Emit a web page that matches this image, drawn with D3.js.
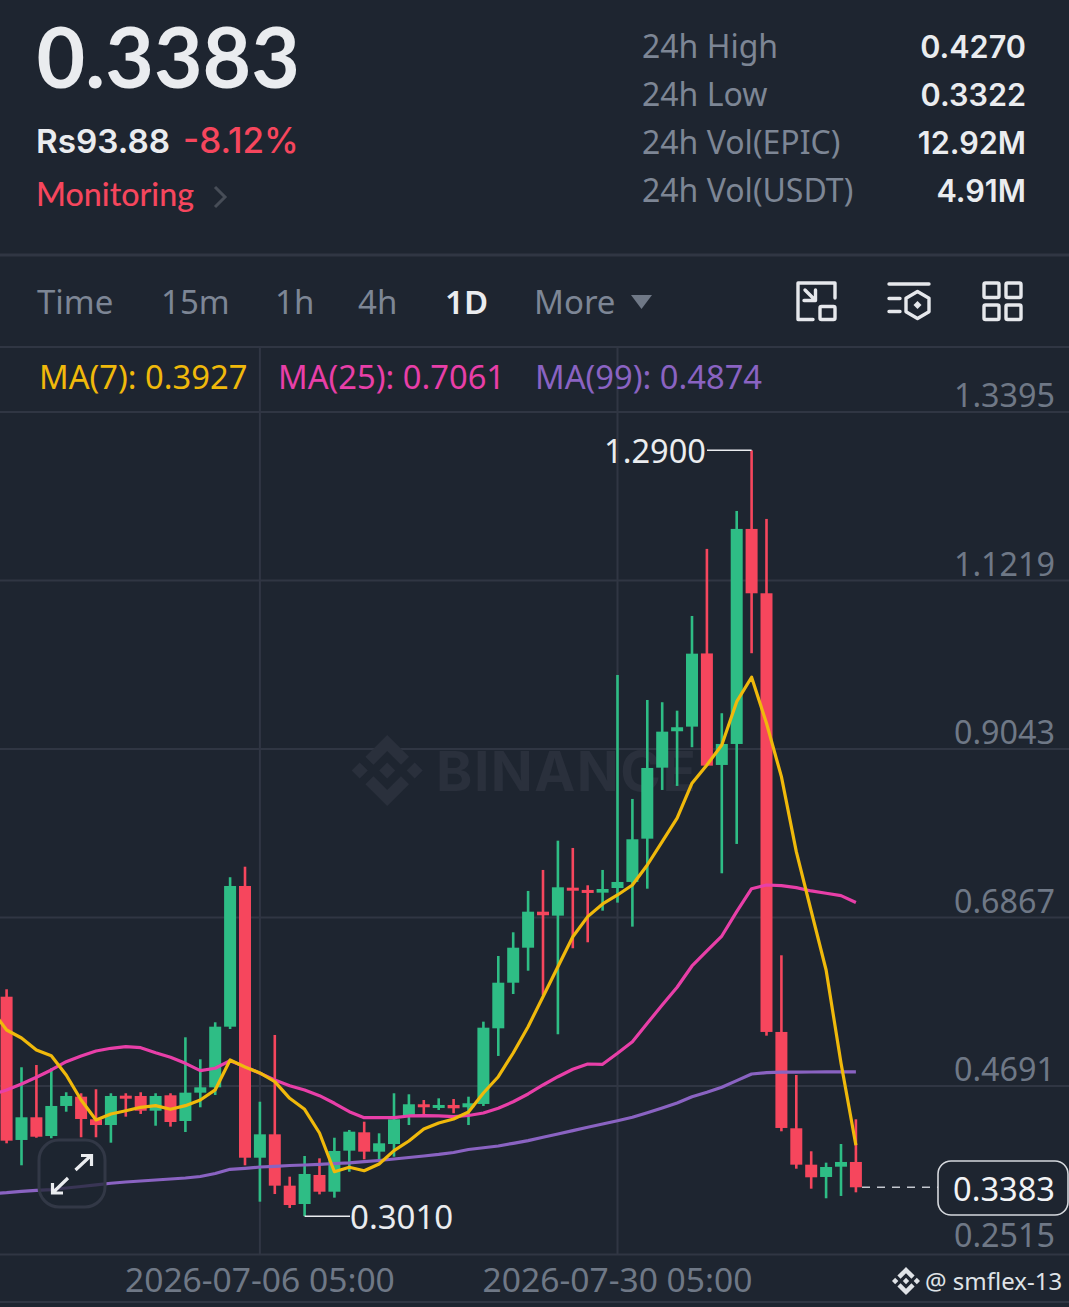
<!DOCTYPE html>
<html>
<head>
<meta charset="utf-8">
<script src="https://cdn.jsdelivr.net/npm/d3@7"></script>
<style>
  html, body { margin: 0; padding: 0; background: #1e2530; }
  svg { display: block; }
  text { font-family: "Noto Sans", sans-serif; }
  .lato { font-family: Lato, sans-serif; }
  .inter { font-family: Inter, sans-serif; }
</style>
</head>
<body>
<svg id="chart" width="1069" height="1307"></svg>
<script>
// candles, one per day, first one is 2026-06-19
const opens = [.5844,.3994,.4287,.4045,.4433,.4553,.4261,.4187,.4566,.4562,.4372,.4571,.4239,.4605,.4674,.5457,.7274,.3765,.4067,.3404,.3167,.3542,.3326,.3856,.4093,.3843,.3942,.4304,.4455,.4424,.4446,.4416,.4459,.5436,.6025,.6477,.6942,.6891,.7252,.7223,.7188,.7248,.7326,.7885,.8802,.9272,.9332,1.0277,.8837,.9108,1.1885,1.1054,.5389,.4145,.3675,.3516,.3649,.3710];
const closes = [.3985,.4287,.4036,.4433,.4562,.4265,.4187,.4562,.4527,.4372,.4562,.4226,.4605,.4674,.5457,.7274,.3765,.4067,.3404,.3154,.3555,.3326,.3852,.4101,.3843,.3951,.4261,.4455,.4433,.4446,.4403,.4468,.5444,.6025,.6477,.6942,.6896,.7257,.7213,.7184,.7235,.7326,.7877,.8798,.9267,.9324,1.0274,.8828,.9108,1.1885,1.1054,.5389,.4149,.3675,.3512,.3645,.3710,.3383];
const highs = [.5940,.4933,.4962,.4920,.4610,.4597,.4649,.4597,.4597,.4610,.4597,.4597,.5320,.5036,.5514,.7387,.7523,.4488,.5350,.3520,.3787,.3757,.4023,.4123,.4230,.4080,.4597,.4584,.4510,.4532,.4523,.4553,.5522,.6370,.6676,.7210,.7481,.7859,.7765,.7283,.7481,.9999,.8398,.9676,.9647,.9538,1.0761,1.1627,.9505,1.2117,1.2900,1.2014,.6379,.4833,.3848,.3701,.3942,.4261];
const lows = [.3951,.3667,.4023,.4016,.4359,.4029,.4029,.3959,.4295,.4330,.4178,.4166,.4097,.4416,.4575,.5427,.3667,.3197,.3296,.3116,.3010,.3292,.3249,.3584,.3744,.3735,.3778,.4187,.4304,.4381,.4339,.4187,.4433,.5079,.5879,.6180,.5866,.5359,.6470,.6547,.6955,.7059,.6749,.7239,.8514,.8566,.9066,.8828,.7438,.7817,1.0280,.5341,.4106,.3623,.3365,.3241,.3271,.3318];

// moving averages, these start one day earlier (runs off the left edge)
const ma7 = [.5673,.5414,.5311,.5156,.5082,.4833,.4510,.4252,.4330,.4372,.4416,.4437,.4390,.4437,.4510,.4640,.5027,.4937,.4859,.4747,.4532,.4390,.4084,.3584,.3641,.3597,.3684,.3856,.3981,.4136,.4213,.4265,.4355,.4601,.4811,.5117,.5457,.5844,.6232,.6619,.6878,.7042,.7158,.7287,.7545,.7846,.8149,.8601,.8837,.9095,.9654,.9970,.9375,.8686,.7717,.6951,.6189,.4988,.3927];
const ma25 = [.4575,.4640,.4717,.4804,.4898,.5005,.5079,.5143,.5178,.5199,.5186,.5121,.5062,.4984,.4889,.4920,.5018,.4940,.4855,.4769,.4695,.4640,.4566,.4468,.4359,.4282,.4282,.4282,.4304,.4308,.4304,.4295,.4310,.4342,.4403,.4488,.4588,.4704,.4811,.4907,.4975,.4971,.5113,.5263,.5501,.5737,.5966,.6241,.6435,.6628,.6942,.7239,.7287,.7278,.7252,.7210,.7180,.7149,.7061];
const ma99 = [.3303,.3313,.3329,.3342,.3354,.3374,.3393,.3413,.3435,.3451,.3464,.3477,.3490,.3503,.3522,.3561,.3615,.3628,.3645,.3654,.3664,.3671,.3680,.3690,.3699,.3714,.3729,.3748,.3768,.3787,.3807,.3832,.3871,.3894,.3916,.3951,.3985,.4029,.4071,.4114,.4158,.4200,.4243,.4287,.4346,.4407,.4472,.4553,.4610,.4674,.4760,.4846,.4863,.4869,.4871,.4872,.4873,.4874,.4874];

const priceTicks = [1.3395, 1.1219, 0.9043, 0.6867, 0.4691, 0.2515];
const dateTicks = ["2026-07-06T05:00Z", "2026-07-30T05:00Z"].map(d => new Date(d));
const lastPrice = 0.3383;
const peakPrice = 1.29;
const bottomPrice = 0.301;

const statLabels = ["24h High", "24h Low", "24h Vol(EPIC)", "24h Vol(USDT)"];
const statValues = ["0.4270", "0.3322", "12.92M", "4.91M"];
const tabLabels = ["Time", "15m", "1h", "4h", "1D", "More"];
const tabX = [37, 161, 275, 358, 445, 534];

const colors = {
    bg: "#1e2530", up: "#2ebd85", down: "#f6465d", grid: "#303643", axis: "#6f7886", stat: "#7d8695",
    white: "#eaecef", ma7: "#f0b90b", ma25: "#e83fa8", ma99: "#8a63c2"
};

const firstDay = new Date("2026-06-19T05:00Z");
const days = opens.map((d, i) => d3.utcDay.offset(firstDay, i));
const maDays = ma7.map((d, i) => d3.utcDay.offset(firstDay, i - 1));

const svg = d3.select("#chart");

const x = d3.scaleUtc().domain([days[0], days[days.length - 1]]).range([6.6, 855.9]);
const y = d3.scaleLinear().domain([0.2515, 1.3395]).range([1254.5, 412]);

const CHART_TOP = 347, CHART_BOTTOM = 1254.5;

// separators
[[255, 3], [347, 2], [1302, 2]].forEach(s => {
    svg.append("rect").attr("x", 0).attr("y", s[0] - s[1] / 2).attr("width", 1069).attr("height", s[1]).attr("fill", colors.grid);
});

// grid lines
const gridY = svg.append("g").call(d3.axisRight(y).offset(0).tickValues(priceTicks).tickSize(1069).tickFormat(""));
const gridX = svg.append("g").attr("transform", `translate(0,${CHART_BOTTOM})`)
    .call(d3.axisBottom(x).offset(0).tickValues(dateTicks).tickSize(-(CHART_BOTTOM - CHART_TOP)).tickFormat(""));
[gridY, gridX].forEach(g => {
    g.select(".domain").remove();
    g.selectAll("line").attr("stroke", colors.grid).attr("stroke-width", 2);
});

// binance logo, 24 unit box
function logo(parent, px, py, size, fill) {
    const pts = [
        "12,0 4.63,7.37 7.34,10.08 12,5.42 16.66,10.08 19.37,7.37",
        "12,24 4.63,16.63 7.34,13.92 12,18.58 16.66,13.92 19.37,16.63",
        "0,12 2.71,9.29 5.42,12 2.71,14.71",
        "24,12 21.29,9.29 18.58,12 21.29,14.71",
        "12,9.29 14.71,12 12,14.71 9.29,12"
    ];
    const g = parent.append("g").attr("transform", `translate(${px},${py}) scale(${size / 24})`);
    pts.forEach(p => g.append("polygon").attr("points", p).attr("fill", fill));
}

// watermark
logo(svg, 351.7, 735, 71, "#2a303c");
svg.append("text").attr("class", "inter").attr("x", 436).attr("y", 791).attr("font-size", 55).attr("font-weight", 700)
    .attr("fill", "#2a303c").attr("letter-spacing", 1.5).text("BINANCE");

// candles
const BODY_W = 12, WICK_W = 2.6;
const candles = svg.append("g").selectAll("g").data(days).join("g")
    .attr("fill", (d, i) => closes[i] >= opens[i] ? colors.up : colors.down);
candles.append("rect")
    .attr("x", d => x(d) - WICK_W / 2).attr("width", WICK_W)
    .attr("y", (d, i) => y(highs[i]))
    .attr("height", (d, i) => y(lows[i]) - y(highs[i]));
candles.append("rect")
    .attr("x", d => x(d) - BODY_W / 2).attr("width", BODY_W)
    .attr("y", (d, i) => y(Math.max(opens[i], closes[i])))
    .attr("height", (d, i) => Math.max(3, Math.abs(y(opens[i]) - y(closes[i]))));

// moving averages
const maLine = d3.line().x((d, i) => x(maDays[i])).y(d => y(d));
[[ma99, colors.ma99], [ma25, colors.ma25], [ma7, colors.ma7]].forEach(m => {
    svg.append("path").attr("d", maLine(m[0])).attr("fill", "none")
        .attr("stroke", m[1]).attr("stroke-width", 3.2).attr("stroke-linejoin", "round");
});

// price axis labels
const axisY = svg.append("g").attr("transform", "translate(1055,0)")
    .call(d3.axisRight(y).offset(0).tickValues(priceTicks).tickSize(0).tickPadding(0).tickFormat(d3.format(".4f")));
axisY.select(".domain").remove();
axisY.selectAll("text")
    .attr("text-anchor", "end").attr("dy", 0)
    .attr("y", d => d === 0.2515 ? -8 : -5)
    .attr("font-size", 32.3).attr("fill", colors.axis);

// date labels
const axisX = svg.append("g").attr("transform", "translate(0,1292)")
    .call(d3.axisBottom(x).offset(0).tickValues(dateTicks).tickSize(0).tickPadding(0).tickFormat(d3.utcFormat("%Y-%m-%d %H:%M")));
axisX.select(".domain").remove();
axisX.selectAll("text").attr("y", 0).attr("dy", 0)
    .attr("font-size", 33.6).attr("fill", colors.axis);

// high / low markers
const peakDay = days[highs.indexOf(peakPrice)];
const bottomDay = days[lows.indexOf(bottomPrice)];
svg.append("line").attr("x1", 707).attr("x2", x(peakDay)).attr("y1", y(peakPrice)).attr("y2", y(peakPrice))
    .attr("stroke", colors.white).attr("stroke-width", 1.5);
svg.append("text").attr("x", 706).attr("y", y(peakPrice) + 12.5).attr("text-anchor", "end")
    .attr("font-size", 32.6).attr("fill", colors.white).text(d3.format(".4f")(peakPrice));
svg.append("line").attr("x1", x(bottomDay)).attr("x2", 350).attr("y1", y(bottomPrice)).attr("y2", y(bottomPrice))
    .attr("stroke", colors.white).attr("stroke-width", 1.5);
svg.append("text").attr("x", 350).attr("y", y(bottomPrice) + 13)
    .attr("font-size", 33).attr("fill", colors.white).text(d3.format(".4f")(bottomPrice));

// current price tag
svg.append("line").attr("x1", 862).attr("x2", 938).attr("y1", y(lastPrice)).attr("y2", y(lastPrice))
    .attr("stroke", "#c4c8cf").attr("stroke-width", 1.5).attr("stroke-dasharray", "8 7");
svg.append("rect").attr("x", 938).attr("y", 1161).attr("width", 130).attr("height", 54).attr("rx", 13)
    .attr("fill", colors.bg).attr("stroke", "#d5d8dd").attr("stroke-width", 1.6);
svg.append("text").attr("x", 1055).attr("y", 1201).attr("text-anchor", "end")
    .attr("font-size", 32.6).attr("fill", "#f2f3f5").text(d3.format(".4f")(lastPrice));

// footer mark
logo(svg, 892, 1267, 28, "#dfe2e6");
svg.append("text").attr("x", 925).attr("y", 1290).attr("font-size", 24).attr("fill", "#dfe2e6").text("@ smflex-13");

// expand button
svg.append("rect").attr("x", 39).attr("y", 1140).attr("width", 66).attr("height", 67).attr("rx", 20)
    .attr("fill", colors.bg).attr("fill-opacity", 0.75).attr("stroke", "#323846").attr("stroke-width", 3);
svg.append("path").attr("d", "M75.5 1170L91 1155.5M81 1155.5H91.5V1166M68 1178L53 1192.5M52.5 1183V1193H63")
    .attr("fill", "none").attr("stroke", "#eaecef").attr("stroke-width", 3.2);

// header
svg.append("text").attr("class", "lato").attr("x", 36.5).attr("y", 88).attr("font-size", 84).attr("font-weight", 700)
    .attr("fill", colors.white).text("0.3383");
svg.append("text").attr("class", "inter").attr("x", 36).attr("y", 152.5).attr("font-size", 33.3).attr("font-weight", 600)
    .attr("fill", colors.white).text("Rs93.88");
svg.append("text").attr("class", "inter").attr("x", 183).attr("y", 152.5).attr("font-size", 35).attr("font-weight", 500)
    .attr("fill", colors.down).text("-8.12%");
svg.append("text").attr("class", "lato").attr("x", 36).attr("y", 206).attr("font-size", 32.2).attr("font-weight", 500)
    .attr("fill", colors.down).text("Monitoring");
svg.append("path").attr("d", "M215 187L225 197L215 207").attr("fill", "none").attr("stroke", "#474d57").attr("stroke-width", 3);

statLabels.forEach((s, i) => {
    svg.append("text").attr("x", 642).attr("y", 58 + i * 48).attr("font-size", 32).attr("fill", colors.stat).text(s);
    svg.append("text").attr("class", "inter").attr("x", 1026).attr("y", 58 + i * 48).attr("text-anchor", "end").attr("font-size", 30.6)
        .attr("font-weight", 600).attr("fill", colors.white).text(statValues[i]);
});

// tabs
tabLabels.forEach((s, i) => {
    svg.append("text").attr("x", tabX[i]).attr("y", 314).attr("font-size", 33)
        .attr("font-weight", s === "1D" ? 600 : 400)
        .attr("fill", s === "1D" ? colors.white : colors.stat).text(s);
});
svg.append("path").attr("d", "M631 295H652L641.5 309Z").attr("fill", "#6f7886");

// toolbar icons
const iconColor = "#e6e8ec";
const icons = svg.append("g").attr("fill", "none").attr("stroke", iconColor).attr("stroke-width", 3.4)
    .attr("stroke-linecap", "round").attr("stroke-linejoin", "round");
icons.append("path").attr("d", "M813 319.5H798V283H835V298");
icons.append("rect").attr("x", 820).attr("y", 306.5).attr("width", 15).attr("height", 13).attr("rx", 1.5);
icons.append("path").attr("d", "M805 290L815 300M804 300.5H815.5V290");
icons.append("path").attr("d", "M889 284H929M889 298.5H900M889 311.5H900");
icons.append("path").attr("d", "M917.5 291.5L929 298.2V311.8L917.5 318.5L906 311.8V298.2Z");
icons.append("path").attr("d", "M917.5 301L921.5 305L917.5 309L913.5 305Z").attr("fill", iconColor).attr("stroke", "none");
[[984, 283], [1006, 283], [984, 305], [1006, 305]].forEach(p => {
    icons.append("rect").attr("x", p[0]).attr("y", p[1]).attr("width", 15).attr("height", 14.5).attr("rx", 1.5);
});

// MA legend
[["MA(7): 0.3927", 39, colors.ma7], ["MA(25): 0.7061", 278, colors.ma25], ["MA(99): 0.4874", 535, colors.ma99]].forEach(m => {
    svg.append("text").attr("x", m[1]).attr("y", 389).attr("font-size", 32.7).attr("fill", m[2]).text(m[0]);
});
</script>
</body>
</html>
